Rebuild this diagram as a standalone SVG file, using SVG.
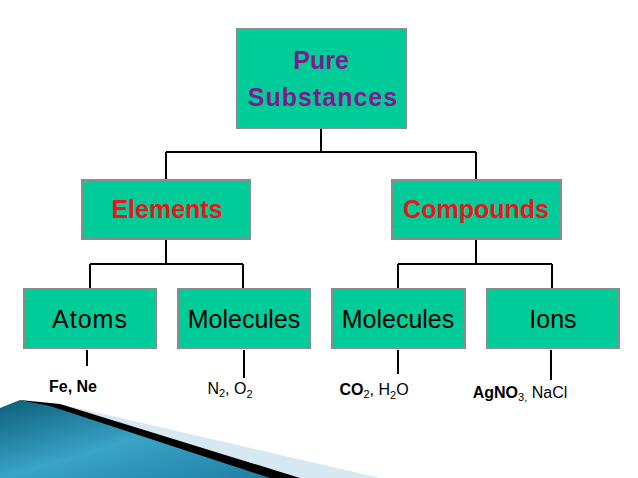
<svg xmlns="http://www.w3.org/2000/svg" width="638" height="478" viewBox="0 0 638 478">
<defs>
<style>
.box{fill:#00CC99;stroke:#8c8c8c;stroke-width:2}
.ln{stroke:#000;stroke-width:2;fill:none}
.t{font-family:"Liberation Sans",Arial,sans-serif;font-size:25px;text-anchor:middle}
.f{font-family:"Liberation Sans",Arial,sans-serif;font-size:16px;text-anchor:middle}
.b{font-weight:bold}
</style>
<linearGradient id="bl" x1="0" y1="0" x2="1" y2="1">
<stop offset="0" stop-color="#0b5f7a"/><stop offset="0.5" stop-color="#3aa3c6"/><stop offset="1" stop-color="#1e7fa3"/>
</linearGradient>
</defs>
<rect width="638" height="478" fill="#fff"/>
<g id="decor">
<polygon points="0,410 60,404 380,478 0,478" fill="#d6e9f2"/>
<polygon points="20,400 60,404 300,478 260,478" fill="#000"/>
<polygon points="0,408 20,400 50,406 270,478 0,478" fill="url(#bl)"/>
</g>
<g id="connectors">
<path class="ln" d="M321,128V152M166,152H476M166,152V180M476,152V180"/>
<path class="ln" d="M166,239V264M90,264H243M90,264V289M243,264V289"/>
<path class="ln" d="M476,239V264M398,264H552M398,264V289M552,264V289"/>
<path class="ln" d="M87,350V366M244,350V378M398,350V374M551,350V380"/>
</g>
<g id="pure"><rect class="box" x="237" y="29" width="169" height="99"/>
<text class="t b" x="321" y="69" fill="#7B1C8E">Pure</text>
<text class="t b" x="323" y="106" fill="#7B1C8E" letter-spacing="1">Substances</text></g>
<g id="elements"><rect class="box" x="82" y="180" width="168" height="59"/>
<text class="t b" x="167" y="218" fill="#E8161B">Elements</text></g>
<g id="compounds"><rect class="box" x="392" y="180" width="169" height="59"/>
<text class="t b" x="476" y="218" fill="#E8161B">Compounds</text></g>
<g id="atoms"><rect class="box" x="24" y="289" width="132" height="59"/>
<text class="t" x="90" y="328" letter-spacing="1">Atoms</text></g>
<g id="molecules1"><rect class="box" x="178" y="289" width="132" height="59"/>
<text class="t" x="244" y="328">Molecules</text></g>
<g id="molecules2"><rect class="box" x="332" y="289" width="133" height="59"/>
<text class="t" x="398" y="328">Molecules</text></g>
<g id="ions"><rect class="box" x="487" y="289" width="132" height="59"/>
<text class="t" x="553" y="328">Ions</text></g>
<g id="labels">
<text class="f b" x="73" y="392">Fe, Ne</text>
<text class="f" x="230" y="394">N<tspan font-size="11" dy="3">2</tspan><tspan dy="-3">, O</tspan><tspan font-size="11" dy="4">2</tspan></text>
<text class="f" x="374" y="395"><tspan class="b">CO</tspan><tspan font-size="11" dy="3">2</tspan><tspan dy="-3">, H</tspan><tspan font-size="11" dy="4">2</tspan><tspan dy="-4">O</tspan></text>
<text class="f" x="520" y="398"><tspan class="b">AgNO</tspan><tspan font-size="11" dy="3">3,</tspan><tspan dy="-3"> NaCl</tspan></text>
</g>
</svg>
